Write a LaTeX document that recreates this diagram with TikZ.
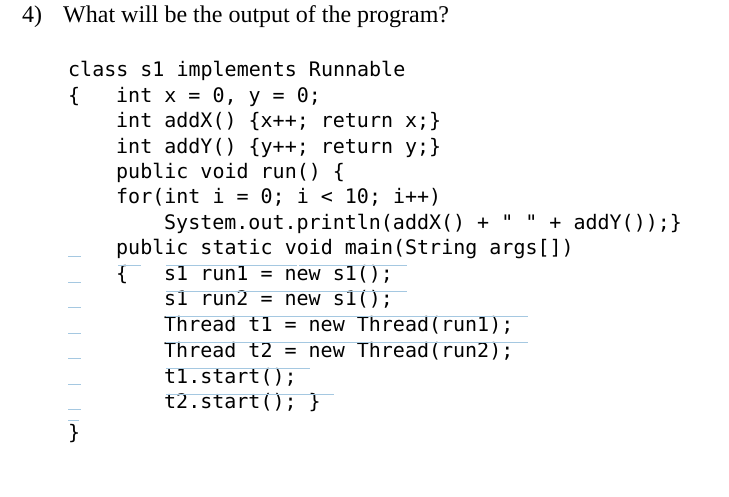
\documentclass[tikz,border=0pt]{standalone}
\usepackage{fontspec}
\setmainfont{Liberation Serif}
\newfontfamily\codefont{DejaVu Sans Mono}
\begin{document}
\begin{tikzpicture}[x=1pt,y=-1pt,
  code/.style={anchor=base west,inner sep=0pt,font=\codefont\fontsize{20}{22}\selectfont},
  head/.style={anchor=base west,inner sep=0pt,font=\fontsize{24}{26}\selectfont},
  faint/.style={draw={rgb,255:red,165;green,200;blue,225},line width=0.7pt}]
\useasboundingbox (0,0) rectangle (729,497);
\node[head] (num) at (22,23) {4)};
\node[head] (q) at (63,23) {What will be the output of the program?};
\node[code] (l1) at (68,77) {class s1 implements Runnable};
\node[code] (l2a) at (68,103) {\{};
\node[code] (l2) at (116,103) {int x = 0, y = 0;};
\node[code] (l3) at (116,128) {int addX() \{x++; return x;\}};
\node[code] (l4) at (116,154) {int addY() \{y++; return y;\}};
\node[code] (l5) at (116,179) {public void run() \{};
\node[code] (l6) at (116,204) {for(int i = 0; i < 10; i++)};
\node[code] (l7) at (164,230) {System.out.println(addX() + " " + addY());\}};
\node[code] (l8) at (116,255) {public static void main(String args[])};
\node[code] (l9a) at (116,281) {\{};
\node[code] (l9) at (164,281) {s1 run1 = new s1();};
\node[code] (l10) at (164,306) {s1 run2 = new s1();};
\node[code] (l11) at (164,332) {Thread t1 = new Thread(run1);};
\node[code] (l12) at (164,357) {Thread t2 = new Thread(run2);};
\node[code] (l13) at (164,383) {t1.start();};
\node[code] (l14) at (164,408) {t2.start(); \}};
\node[code] (l15) at (68,439) {\}};
\foreach \yy in {256,282,307,333,358,384,409} \draw[faint] (68,\yy) -- (81,\yy);
\draw[faint] (118,265) -- (141,265);
\draw[faint] (166,265) -- (297,265);
\draw[faint] (299,265) -- (407,265);
\draw[faint] (166,291) -- (407,291);
\draw[faint] (166,316) -- (528,316);
\draw[faint] (166,342) -- (528,342);
\draw[faint] (166,368) -- (310,368);
\draw[faint] (166,394) -- (334,394);
\draw[faint] (68,420) -- (79,420);
\end{tikzpicture}
\end{document}
